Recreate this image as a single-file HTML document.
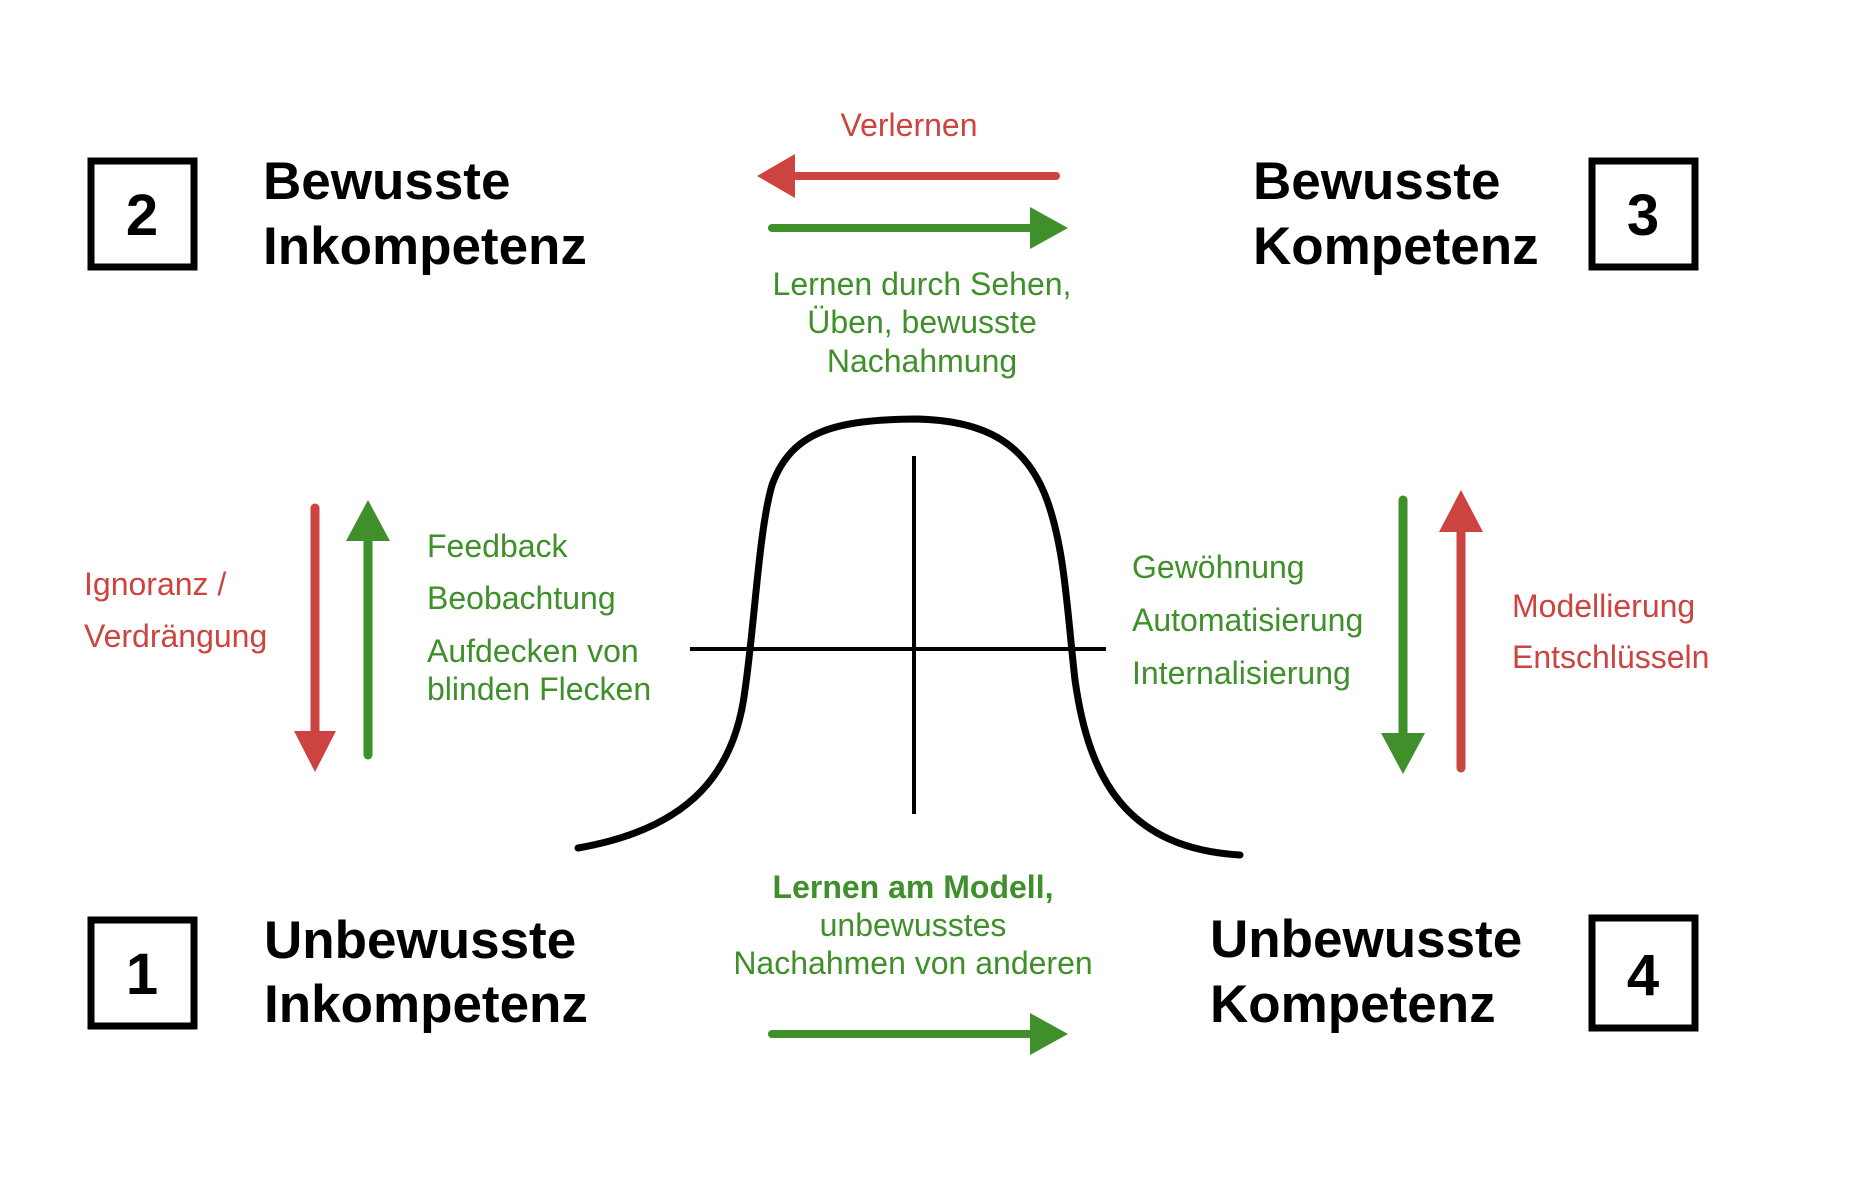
<!DOCTYPE html>
<html><head><meta charset="utf-8"><style>
html,body{margin:0;padding:0;background:#fff;}
svg{display:block;}
.h{font-family:"Liberation Sans",sans-serif;font-weight:bold;font-size:53px;fill:#000;}
.n{font-family:"Liberation Sans",sans-serif;font-weight:bold;font-size:58px;fill:#000;}
.g{font-family:"Liberation Sans",sans-serif;font-size:32px;fill:#3f8f2a;}
.r{font-family:"Liberation Sans",sans-serif;font-size:32px;fill:#cc4440;}
</style></head><body>
<svg width="1872" height="1190" viewBox="0 0 1872 1190" xmlns="http://www.w3.org/2000/svg">
<rect width="1872" height="1190" fill="#fff"/>
<g fill="none" stroke="#000" stroke-width="7">
<rect x="91" y="161" width="103" height="106"/>
<rect x="1592" y="161" width="103" height="106"/>
<rect x="91" y="920" width="103" height="106"/>
<rect x="1592" y="918" width="103" height="110"/>
</g>
<text class="n" x="142" y="235" text-anchor="middle">2</text>
<text class="n" x="1643" y="235" text-anchor="middle">3</text>
<text class="n" x="142" y="994" text-anchor="middle">1</text>
<text class="n" x="1643" y="995" text-anchor="middle">4</text>
<text class="h" x="263" y="199">Bewusste</text>
<text class="h" x="263" y="264">Inkompetenz</text>
<text class="h" x="1253" y="199">Bewusste</text>
<text class="h" x="1253" y="264">Kompetenz</text>
<text class="h" x="264" y="958">Unbewusste</text>
<text class="h" x="264" y="1022">Inkompetenz</text>
<text class="h" x="1210" y="957">Unbewusste</text>
<text class="h" x="1210" y="1022">Kompetenz</text>

<path d="M578,848 C693,828 735,770 745,690 C755,620 759,530 772,485 C792,430 837,420 915,419 C987,420 1027,445 1047,500 C1065,550 1067,610 1075,680 C1089,780 1127,848 1240,855" fill="none" stroke="#000" stroke-width="7" stroke-linecap="round"/>
<line x1="690" y1="649" x2="1106" y2="649" stroke="#000" stroke-width="4"/>
<line x1="914" y1="456" x2="914" y2="814" stroke="#000" stroke-width="4"/>

<line x1="790" y1="176" x2="1056" y2="176" stroke="#cc4440" stroke-width="8" stroke-linecap="round"/>
<polygon points="757,176 795,154 795,198" fill="#cc4440"/>
<line x1="772" y1="228" x2="1036" y2="228" stroke="#3f8f2a" stroke-width="8" stroke-linecap="round"/>
<polygon points="1068,228 1030,207 1030,249" fill="#3f8f2a"/>
<text class="r" x="909" y="136" text-anchor="middle">Verlernen</text>
<text class="g" x="922" y="295" text-anchor="middle">Lernen durch Sehen,</text>
<text class="g" x="922" y="333" text-anchor="middle">Üben, bewusste</text>
<text class="g" x="922" y="372" text-anchor="middle">Nachahmung</text>

<line x1="315" y1="508" x2="315" y2="735" stroke="#cc4440" stroke-width="9" stroke-linecap="round"/>
<polygon points="315,772 294,731 336,731" fill="#cc4440"/>
<line x1="368" y1="535" x2="368" y2="755" stroke="#3f8f2a" stroke-width="9" stroke-linecap="round"/>
<polygon points="368,500 346,541 390,541" fill="#3f8f2a"/>
<text class="r" x="84" y="595">Ignoranz /</text>
<text class="r" x="84" y="647">Verdrängung</text>
<text class="g" x="427" y="557">Feedback</text>
<text class="g" x="427" y="609">Beobachtung</text>
<text class="g" x="427" y="662">Aufdecken von</text>
<text class="g" x="427" y="700">blinden Flecken</text>

<line x1="1403" y1="500" x2="1403" y2="740" stroke="#3f8f2a" stroke-width="9" stroke-linecap="round"/>
<polygon points="1403,774 1381,733 1425,733" fill="#3f8f2a"/>
<line x1="1461" y1="525" x2="1461" y2="768" stroke="#cc4440" stroke-width="9" stroke-linecap="round"/>
<polygon points="1461,490 1439,532 1483,532" fill="#cc4440"/>
<text class="g" x="1132" y="578">Gewöhnung</text>
<text class="g" x="1132" y="631">Automatisierung</text>
<text class="g" x="1132" y="684">Internalisierung</text>
<text class="r" x="1512" y="617">Modellierung</text>
<text class="r" x="1512" y="668">Entschlüsseln</text>

<text class="g" x="913" y="898" text-anchor="middle" font-weight="bold">Lernen am Modell,</text>
<text class="g" x="913" y="936" text-anchor="middle">unbewusstes</text>
<text class="g" x="913" y="974" text-anchor="middle">Nachahmen von anderen</text>
<line x1="772" y1="1034" x2="1036" y2="1034" stroke="#3f8f2a" stroke-width="8" stroke-linecap="round"/>
<polygon points="1068,1034 1030,1013 1030,1055" fill="#3f8f2a"/>
</svg>
</body></html>
